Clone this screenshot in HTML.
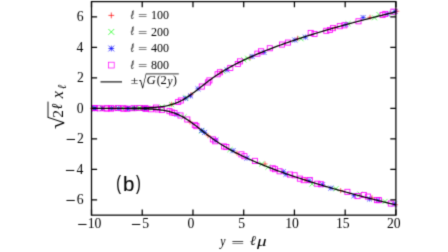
<!DOCTYPE html><html><head><meta charset="utf-8"><style>html,body{margin:0;padding:0;background:#fff;}svg{display:block}text{font-family:"Liberation Serif",serif;fill:#000}</style></head><body><svg width="448" height="252" viewBox="0 0 448 252"><defs><filter id="bl" filterUnits="userSpaceOnUse" x="0" y="0" width="448" height="252" color-interpolation-filters="sRGB"><feConvolveMatrix order="3" kernelMatrix="9 42 9 42 196 42 9 42 9" divisor="400" edgeMode="duplicate"/></filter></defs><g filter="url(#bl)"><rect width="448" height="252" fill="#fff"/><g stroke-width="0.8" fill="none"><g stroke-width="0.6"><path d="M169.15 104.28h5.10M171.70 101.73v5.10" stroke="#ff0000"/><path d="M188.45 94.57h5.10M191.00 92.02v5.10" stroke="#ff0000"/><path d="M218.85 71.47h5.10M221.40 68.92v5.10" stroke="#ff0000"/><path d="M247.45 57.69h5.10M250.00 55.14v5.10" stroke="#ff0000"/><path d="M295.05 38.34h5.10M297.60 35.79v5.10" stroke="#ff0000"/><path d="M332.45 27.76h5.10M335.00 25.21v5.10" stroke="#ff0000"/><path d="M367.45 17.31h5.10M370.00 14.76v5.10" stroke="#ff0000"/><path d="M394.25 11.21h5.10M396.80 8.66v5.10" stroke="#ff0000"/><path d="M187.45 121.94h5.10M190.00 119.39v5.10" stroke="#ff0000"/><path d="M205.45 135.63h5.10M208.00 133.08v5.10" stroke="#ff0000"/><path d="M234.45 153.15h5.10M237.00 150.60v5.10" stroke="#ff0000"/><path d="M262.45 163.95h5.10M265.00 161.40v5.10" stroke="#ff0000"/><path d="M302.45 179.58h5.10M305.00 177.03v5.10" stroke="#ff0000"/><path d="M338.15 190.60h5.10M340.70 188.05v5.10" stroke="#ff0000"/><path d="M369.45 197.80h5.10M372.00 195.25v5.10" stroke="#ff0000"/><path d="M392.95 204.81h5.10M395.50 202.26v5.10" stroke="#ff0000"/><path d="M90.02 108.39h5.10M92.57 105.84v5.10" stroke="#ff0000"/><path d="M99.43 108.29h5.10M101.98 105.74v5.10" stroke="#ff0000"/><path d="M99.63 108.42h5.10M102.18 105.87v5.10" stroke="#ff0000"/><path d="M106.55 108.21h5.10M109.10 105.66v5.10" stroke="#ff0000"/><path d="M113.37 108.24h5.10M115.92 105.69v5.10" stroke="#ff0000"/><path d="M124.49 108.21h5.10M127.04 105.66v5.10" stroke="#ff0000"/><path d="M132.06 108.28h5.10M134.61 105.73v5.10" stroke="#ff0000"/><path d="M131.58 108.51h5.10M134.13 105.96v5.10" stroke="#ff0000"/><path d="M139.68 107.99h5.10M142.23 105.44v5.10" stroke="#ff0000"/><path d="M139.53 108.47h5.10M142.08 105.92v5.10" stroke="#ff0000"/></g><g stroke-width="0.6"><path d="M159.25 104.37l5.10 5.10M159.25 109.47l5.10 -5.10" stroke="#00ff00"/><path d="M169.15 102.05l5.10 5.10M169.15 107.15l5.10 -5.10" stroke="#00ff00"/><path d="M183.45 95.10l5.10 5.10M183.45 100.20l5.10 -5.10" stroke="#00ff00"/><path d="M220.45 68.73l5.10 5.10M220.45 73.83l5.10 -5.10" stroke="#00ff00"/><path d="M241.25 57.26l5.10 5.10M241.25 62.36l5.10 -5.10" stroke="#00ff00"/><path d="M245.05 55.69l5.10 5.10M245.05 60.79l5.10 -5.10" stroke="#00ff00"/><path d="M298.45 36.20l5.10 5.10M298.45 41.30l5.10 -5.10" stroke="#00ff00"/><path d="M345.45 21.07l5.10 5.10M345.45 26.17l5.10 -5.10" stroke="#00ff00"/><path d="M371.95 15.20l5.10 5.10M371.95 20.30l5.10 -5.10" stroke="#00ff00"/><path d="M376.45 12.03l5.10 5.10M376.45 17.13l5.10 -5.10" stroke="#00ff00"/><path d="M389.45 10.67l5.10 5.10M389.45 15.77l5.10 -5.10" stroke="#00ff00"/><path d="M181.45 114.32l5.10 5.10M181.45 119.42l5.10 -5.10" stroke="#00ff00"/><path d="M199.05 128.47l5.10 5.10M199.05 133.57l5.10 -5.10" stroke="#00ff00"/><path d="M227.45 147.05l5.10 5.10M227.45 152.15l5.10 -5.10" stroke="#00ff00"/><path d="M259.15 161.47l5.10 5.10M259.15 166.57l5.10 -5.10" stroke="#00ff00"/><path d="M265.45 164.61l5.10 5.10M265.45 169.71l5.10 -5.10" stroke="#00ff00"/><path d="M309.45 181.52l5.10 5.10M309.45 186.62l5.10 -5.10" stroke="#00ff00"/><path d="M333.45 186.20l5.10 5.10M333.45 191.30l5.10 -5.10" stroke="#00ff00"/><path d="M357.45 191.59l5.10 5.10M357.45 196.69l5.10 -5.10" stroke="#00ff00"/><path d="M382.45 198.90l5.10 5.10M382.45 204.00l5.10 -5.10" stroke="#00ff00"/><path d="M92.03 105.93l5.10 5.10M92.03 111.03l5.10 -5.10" stroke="#00ff00"/><path d="M100.36 105.68l5.10 5.10M100.36 110.78l5.10 -5.10" stroke="#00ff00"/><path d="M110.50 105.62l5.10 5.10M110.50 110.72l5.10 -5.10" stroke="#00ff00"/><path d="M119.43 105.90l5.10 5.10M119.43 111.00l5.10 -5.10" stroke="#00ff00"/><path d="M119.50 105.71l5.10 5.10M119.50 110.81l5.10 -5.10" stroke="#00ff00"/><path d="M128.73 106.01l5.10 5.10M128.73 111.11l5.10 -5.10" stroke="#00ff00"/><path d="M137.08 105.46l5.10 5.10M137.08 110.56l5.10 -5.10" stroke="#00ff00"/><path d="M136.76 105.90l5.10 5.10M136.76 111.00l5.10 -5.10" stroke="#00ff00"/><path d="M144.91 105.48l5.10 5.10M144.91 110.58l5.10 -5.10" stroke="#00ff00"/></g><g stroke-width="0.6"><path d="M182.75 98.30h5.10M185.30 95.75v5.10" stroke="#0000ff"/><path d="M182.75 95.75l5.10 5.10M182.75 100.85l5.10 -5.10" stroke="#0000ff"/><path d="M187.95 95.87h5.10M190.50 93.32v5.10" stroke="#0000ff"/><path d="M187.95 93.32l5.10 5.10M187.95 98.42l5.10 -5.10" stroke="#0000ff"/><path d="M195.45 88.80h5.10M198.00 86.25v5.10" stroke="#0000ff"/><path d="M195.45 86.25l5.10 5.10M195.45 91.35l5.10 -5.10" stroke="#0000ff"/><path d="M224.45 69.93h5.10M227.00 67.38v5.10" stroke="#0000ff"/><path d="M224.45 67.38l5.10 5.10M224.45 72.48l5.10 -5.10" stroke="#0000ff"/><path d="M249.55 56.43h5.10M252.10 53.88v5.10" stroke="#0000ff"/><path d="M249.55 53.88l5.10 5.10M249.55 58.98l5.10 -5.10" stroke="#0000ff"/><path d="M261.45 52.42h5.10M264.00 49.87v5.10" stroke="#0000ff"/><path d="M261.45 49.87l5.10 5.10M261.45 54.97l5.10 -5.10" stroke="#0000ff"/><path d="M292.25 40.03h5.10M294.80 37.48v5.10" stroke="#0000ff"/><path d="M292.25 37.48l5.10 5.10M292.25 42.58l5.10 -5.10" stroke="#0000ff"/><path d="M302.85 37.16h5.10M305.40 34.61v5.10" stroke="#0000ff"/><path d="M302.85 34.61l5.10 5.10M302.85 39.71l5.10 -5.10" stroke="#0000ff"/><path d="M343.25 24.49h5.10M345.80 21.94v5.10" stroke="#0000ff"/><path d="M343.25 21.94l5.10 5.10M343.25 27.04l5.10 -5.10" stroke="#0000ff"/><path d="M360.55 17.53h5.10M363.10 14.98v5.10" stroke="#0000ff"/><path d="M360.55 14.98l5.10 5.10M360.55 20.08l5.10 -5.10" stroke="#0000ff"/><path d="M384.75 14.01h5.10M387.30 11.46v5.10" stroke="#0000ff"/><path d="M384.75 11.46l5.10 5.10M384.75 16.56l5.10 -5.10" stroke="#0000ff"/><path d="M392.45 11.47h5.10M395.00 8.92v5.10" stroke="#0000ff"/><path d="M392.45 8.92l5.10 5.10M392.45 14.02l5.10 -5.10" stroke="#0000ff"/><path d="M174.45 114.45h5.10M177.00 111.90v5.10" stroke="#0000ff"/><path d="M174.45 111.90l5.10 5.10M174.45 117.00l5.10 -5.10" stroke="#0000ff"/><path d="M199.05 130.45h5.10M201.60 127.90v5.10" stroke="#0000ff"/><path d="M199.05 127.90l5.10 5.10M199.05 133.00l5.10 -5.10" stroke="#0000ff"/><path d="M202.05 132.48h5.10M204.60 129.93v5.10" stroke="#0000ff"/><path d="M202.05 129.93l5.10 5.10M202.05 135.03l5.10 -5.10" stroke="#0000ff"/><path d="M213.25 140.07h5.10M215.80 137.52v5.10" stroke="#0000ff"/><path d="M213.25 137.52l5.10 5.10M213.25 142.62l5.10 -5.10" stroke="#0000ff"/><path d="M230.45 150.69h5.10M233.00 148.14v5.10" stroke="#0000ff"/><path d="M230.45 148.14l5.10 5.10M230.45 153.24l5.10 -5.10" stroke="#0000ff"/><path d="M244.45 158.11h5.10M247.00 155.56v5.10" stroke="#0000ff"/><path d="M244.45 155.56l5.10 5.10M244.45 160.66l5.10 -5.10" stroke="#0000ff"/><path d="M280.75 171.71h5.10M283.30 169.16v5.10" stroke="#0000ff"/><path d="M280.75 169.16l5.10 5.10M280.75 174.26l5.10 -5.10" stroke="#0000ff"/><path d="M283.45 174.27h5.10M286.00 171.72v5.10" stroke="#0000ff"/><path d="M283.45 171.72l5.10 5.10M283.45 176.82l5.10 -5.10" stroke="#0000ff"/><path d="M306.45 180.72h5.10M309.00 178.17v5.10" stroke="#0000ff"/><path d="M306.45 178.17l5.10 5.10M306.45 183.27l5.10 -5.10" stroke="#0000ff"/><path d="M320.05 184.63h5.10M322.60 182.08v5.10" stroke="#0000ff"/><path d="M320.05 182.08l5.10 5.10M320.05 187.18l5.10 -5.10" stroke="#0000ff"/><path d="M328.35 188.13h5.10M330.90 185.58v5.10" stroke="#0000ff"/><path d="M328.35 185.58l5.10 5.10M328.35 190.68l5.10 -5.10" stroke="#0000ff"/><path d="M351.45 195.68h5.10M354.00 193.13v5.10" stroke="#0000ff"/><path d="M351.45 193.13l5.10 5.10M351.45 198.23l5.10 -5.10" stroke="#0000ff"/><path d="M366.95 199.04h5.10M369.50 196.49v5.10" stroke="#0000ff"/><path d="M366.95 196.49l5.10 5.10M366.95 201.59l5.10 -5.10" stroke="#0000ff"/><path d="M375.45 200.31h5.10M378.00 197.76v5.10" stroke="#0000ff"/><path d="M375.45 197.76l5.10 5.10M375.45 202.86l5.10 -5.10" stroke="#0000ff"/><path d="M391.75 204.06h5.10M394.30 201.51v5.10" stroke="#0000ff"/><path d="M391.75 201.51l5.10 5.10M391.75 206.61l5.10 -5.10" stroke="#0000ff"/><path d="M92.65 108.15h5.10M95.20 105.60v5.10" stroke="#0000ff"/><path d="M92.65 105.60l5.10 5.10M92.65 110.70l5.10 -5.10" stroke="#0000ff"/><path d="M92.12 108.73h5.10M94.67 106.18v5.10" stroke="#0000ff"/><path d="M92.12 106.18l5.10 5.10M92.12 111.28l5.10 -5.10" stroke="#0000ff"/><path d="M99.93 108.48h5.10M102.48 105.93v5.10" stroke="#0000ff"/><path d="M99.93 105.93l5.10 5.10M99.93 111.03l5.10 -5.10" stroke="#0000ff"/><path d="M108.94 108.40h5.10M111.49 105.85v5.10" stroke="#0000ff"/><path d="M108.94 105.85l5.10 5.10M108.94 110.95l5.10 -5.10" stroke="#0000ff"/><path d="M115.86 108.54h5.10M118.41 105.99v5.10" stroke="#0000ff"/><path d="M115.86 105.99l5.10 5.10M115.86 111.09l5.10 -5.10" stroke="#0000ff"/><path d="M125.49 108.38h5.10M128.04 105.83v5.10" stroke="#0000ff"/><path d="M125.49 105.83l5.10 5.10M125.49 110.93l5.10 -5.10" stroke="#0000ff"/><path d="M125.22 108.51h5.10M127.77 105.96v5.10" stroke="#0000ff"/><path d="M125.22 105.96l5.10 5.10M125.22 111.06l5.10 -5.10" stroke="#0000ff"/><path d="M132.00 108.33h5.10M134.55 105.78v5.10" stroke="#0000ff"/><path d="M132.00 105.78l5.10 5.10M132.00 110.88l5.10 -5.10" stroke="#0000ff"/><path d="M142.35 107.97h5.10M144.90 105.42v5.10" stroke="#0000ff"/><path d="M142.35 105.42l5.10 5.10M142.35 110.52l5.10 -5.10" stroke="#0000ff"/><path d="M142.01 108.77h5.10M144.56 106.22v5.10" stroke="#0000ff"/><path d="M142.01 106.22l5.10 5.10M142.01 111.32l5.10 -5.10" stroke="#0000ff"/></g><g stroke-width="0.85"><rect x="153.35" y="105.04" width="5.10" height="5.10" fill="none" stroke="#ff00ff"/><rect x="175.65" y="99.43" width="5.10" height="5.10" fill="none" stroke="#ff00ff"/><rect x="178.25" y="97.94" width="5.10" height="5.10" fill="none" stroke="#ff00ff"/><rect x="199.25" y="83.99" width="5.10" height="5.10" fill="none" stroke="#ff00ff"/><rect x="205.35" y="79.88" width="5.10" height="5.10" fill="none" stroke="#ff00ff"/><rect x="206.85" y="77.87" width="5.10" height="5.10" fill="none" stroke="#ff00ff"/><rect x="215.05" y="71.72" width="5.10" height="5.10" fill="none" stroke="#ff00ff"/><rect x="217.35" y="69.75" width="5.10" height="5.10" fill="none" stroke="#ff00ff"/><rect x="227.75" y="65.36" width="5.10" height="5.10" fill="none" stroke="#ff00ff"/><rect x="235.25" y="61.46" width="5.10" height="5.10" fill="none" stroke="#ff00ff"/><rect x="237.45" y="58.84" width="5.10" height="5.10" fill="none" stroke="#ff00ff"/><rect x="254.85" y="51.10" width="5.10" height="5.10" fill="none" stroke="#ff00ff"/><rect x="258.55" y="48.76" width="5.10" height="5.10" fill="none" stroke="#ff00ff"/><rect x="267.25" y="45.71" width="5.10" height="5.10" fill="none" stroke="#ff00ff"/><rect x="279.45" y="42.00" width="5.10" height="5.10" fill="none" stroke="#ff00ff"/><rect x="285.45" y="40.02" width="5.10" height="5.10" fill="none" stroke="#ff00ff"/><rect x="308.15" y="30.38" width="5.10" height="5.10" fill="none" stroke="#ff00ff"/><rect x="311.95" y="31.39" width="5.10" height="5.10" fill="none" stroke="#ff00ff"/><rect x="323.75" y="28.23" width="5.10" height="5.10" fill="none" stroke="#ff00ff"/><rect x="327.45" y="27.42" width="5.10" height="5.10" fill="none" stroke="#ff00ff"/><rect x="330.45" y="25.61" width="5.10" height="5.10" fill="none" stroke="#ff00ff"/><rect x="337.25" y="23.65" width="5.10" height="5.10" fill="none" stroke="#ff00ff"/><rect x="341.85" y="22.75" width="5.10" height="5.10" fill="none" stroke="#ff00ff"/><rect x="355.95" y="18.74" width="5.10" height="5.10" fill="none" stroke="#ff00ff"/><rect x="380.05" y="12.36" width="5.10" height="5.10" fill="none" stroke="#ff00ff"/><rect x="382.75" y="11.38" width="5.10" height="5.10" fill="none" stroke="#ff00ff"/><rect x="390.85" y="9.11" width="5.10" height="5.10" fill="none" stroke="#ff00ff"/><rect x="143.45" y="106.25" width="5.10" height="5.10" fill="none" stroke="#ff00ff"/><rect x="148.45" y="106.70" width="5.10" height="5.10" fill="none" stroke="#ff00ff"/><rect x="154.95" y="106.87" width="5.10" height="5.10" fill="none" stroke="#ff00ff"/><rect x="159.45" y="107.50" width="5.10" height="5.10" fill="none" stroke="#ff00ff"/><rect x="166.95" y="108.59" width="5.10" height="5.10" fill="none" stroke="#ff00ff"/><rect x="169.45" y="109.91" width="5.10" height="5.10" fill="none" stroke="#ff00ff"/><rect x="171.95" y="110.41" width="5.10" height="5.10" fill="none" stroke="#ff00ff"/><rect x="177.95" y="112.93" width="5.10" height="5.10" fill="none" stroke="#ff00ff"/><rect x="184.75" y="116.93" width="5.10" height="5.10" fill="none" stroke="#ff00ff"/><rect x="192.25" y="122.36" width="5.10" height="5.10" fill="none" stroke="#ff00ff"/><rect x="193.85" y="123.61" width="5.10" height="5.10" fill="none" stroke="#ff00ff"/><rect x="210.35" y="136.82" width="5.10" height="5.10" fill="none" stroke="#ff00ff"/><rect x="212.65" y="138.73" width="5.10" height="5.10" fill="none" stroke="#ff00ff"/><rect x="221.45" y="143.89" width="5.10" height="5.10" fill="none" stroke="#ff00ff"/><rect x="223.75" y="144.50" width="5.10" height="5.10" fill="none" stroke="#ff00ff"/><rect x="238.85" y="151.80" width="5.10" height="5.10" fill="none" stroke="#ff00ff"/><rect x="241.85" y="153.65" width="5.10" height="5.10" fill="none" stroke="#ff00ff"/><rect x="252.35" y="158.32" width="5.10" height="5.10" fill="none" stroke="#ff00ff"/><rect x="270.25" y="165.74" width="5.10" height="5.10" fill="none" stroke="#ff00ff"/><rect x="272.45" y="166.63" width="5.10" height="5.10" fill="none" stroke="#ff00ff"/><rect x="277.05" y="168.72" width="5.10" height="5.10" fill="none" stroke="#ff00ff"/><rect x="287.55" y="171.98" width="5.10" height="5.10" fill="none" stroke="#ff00ff"/><rect x="292.05" y="172.74" width="5.10" height="5.10" fill="none" stroke="#ff00ff"/><rect x="297.35" y="176.10" width="5.10" height="5.10" fill="none" stroke="#ff00ff"/><rect x="301.15" y="177.62" width="5.10" height="5.10" fill="none" stroke="#ff00ff"/><rect x="307.25" y="177.53" width="5.10" height="5.10" fill="none" stroke="#ff00ff"/><rect x="314.75" y="181.15" width="5.10" height="5.10" fill="none" stroke="#ff00ff"/><rect x="318.45" y="181.71" width="5.10" height="5.10" fill="none" stroke="#ff00ff"/><rect x="344.85" y="189.32" width="5.10" height="5.10" fill="none" stroke="#ff00ff"/><rect x="354.95" y="193.56" width="5.10" height="5.10" fill="none" stroke="#ff00ff"/><rect x="361.25" y="192.48" width="5.10" height="5.10" fill="none" stroke="#ff00ff"/><rect x="365.35" y="194.04" width="5.10" height="5.10" fill="none" stroke="#ff00ff"/><rect x="374.45" y="197.56" width="5.10" height="5.10" fill="none" stroke="#ff00ff"/><rect x="376.45" y="197.62" width="5.10" height="5.10" fill="none" stroke="#ff00ff"/><rect x="388.25" y="200.98" width="5.10" height="5.10" fill="none" stroke="#ff00ff"/><rect x="91.75" y="105.48" width="5.10" height="5.10" fill="none" stroke="#ff00ff"/><rect x="91.73" y="105.57" width="5.10" height="5.10" fill="none" stroke="#ff00ff"/><rect x="97.16" y="105.76" width="5.10" height="5.10" fill="none" stroke="#ff00ff"/><rect x="104.03" y="105.91" width="5.10" height="5.10" fill="none" stroke="#ff00ff"/><rect x="103.70" y="105.82" width="5.10" height="5.10" fill="none" stroke="#ff00ff"/><rect x="108.77" y="105.78" width="5.10" height="5.10" fill="none" stroke="#ff00ff"/><rect x="108.50" y="105.89" width="5.10" height="5.10" fill="none" stroke="#ff00ff"/><rect x="115.33" y="105.50" width="5.10" height="5.10" fill="none" stroke="#ff00ff"/><rect x="121.19" y="105.99" width="5.10" height="5.10" fill="none" stroke="#ff00ff"/><rect x="120.30" y="105.84" width="5.10" height="5.10" fill="none" stroke="#ff00ff"/><rect x="124.89" y="106.18" width="5.10" height="5.10" fill="none" stroke="#ff00ff"/><rect x="131.08" y="105.65" width="5.10" height="5.10" fill="none" stroke="#ff00ff"/><rect x="136.83" y="105.47" width="5.10" height="5.10" fill="none" stroke="#ff00ff"/><rect x="142.82" y="105.67" width="5.10" height="5.10" fill="none" stroke="#ff00ff"/></g></g><path d="M91.50 108.37L92.77 108.37L94.04 108.37L95.31 108.37L96.57 108.37L97.84 108.37L99.11 108.37L100.38 108.37L101.65 108.37L102.91 108.37L104.18 108.36L105.45 108.36L106.72 108.36L107.99 108.36L109.26 108.36L110.53 108.36L111.79 108.35L113.06 108.35L114.33 108.35L115.60 108.35L116.87 108.34L118.13 108.34L119.40 108.33L120.67 108.33L121.94 108.32L123.21 108.32L124.48 108.31L125.75 108.30L127.01 108.29L128.28 108.28L129.55 108.27L130.82 108.26L132.09 108.24L133.35 108.23L134.62 108.21L135.89 108.19L137.16 108.17L138.43 108.14L139.70 108.12L140.97 108.08L142.23 108.05L143.50 108.01L144.77 107.97L146.04 107.92L147.31 107.87L148.57 107.81L149.84 107.74L151.11 107.67L152.38 107.58L153.65 107.49L154.92 107.39L156.19 107.28L157.45 107.16L158.72 107.02L159.99 106.87L161.26 106.70L162.53 106.51L163.80 106.31L165.06 106.08L166.33 105.84L167.60 105.57L168.87 105.27L170.14 104.95L171.40 104.59L172.67 104.21L173.94 103.79L175.21 103.34L176.48 102.85L177.75 102.33L179.01 101.76L180.28 101.16L181.55 100.52L182.82 99.84L184.09 99.12L185.36 98.36L186.62 97.57L187.89 96.74L189.16 95.88L190.43 94.98L191.70 94.06L192.97 93.12L194.23 92.16L195.50 91.18L196.77 90.19L198.04 89.19L199.31 88.19L200.58 87.18L201.84 86.18L203.11 85.18L204.38 84.18L205.65 83.20L206.92 82.23L208.19 81.27L209.45 80.33L210.72 79.40L211.99 78.48L213.26 77.58L214.53 76.70L215.80 75.84L217.06 74.99L218.33 74.15L219.60 73.33L220.87 72.53L222.14 71.74L223.41 70.97L224.67 70.20L225.94 69.46L227.21 68.72L228.48 68.00L229.75 67.29L231.02 66.59L232.28 65.90L233.55 65.22L234.82 64.56L236.09 63.90L237.36 63.25L238.63 62.61L239.89 61.98L241.16 61.36L242.43 60.74L243.70 60.14L244.97 59.54L246.24 58.95L247.50 58.36L248.77 57.78L250.04 57.21L251.31 56.65L252.58 56.09L253.85 55.53L255.11 54.99L256.38 54.45L257.65 53.91L258.92 53.38L260.19 52.85L261.46 52.33L262.73 51.81L263.99 51.30L265.26 50.79L266.53 50.29L267.80 49.79L269.07 49.30L270.33 48.81L271.60 48.32L272.87 47.84L274.14 47.36L275.41 46.89L276.68 46.41L277.94 45.95L279.21 45.48L280.48 45.02L281.75 44.56L283.02 44.11L284.29 43.66L285.55 43.21L286.82 42.77L288.09 42.33L289.36 41.89L290.63 41.45L291.90 41.02L293.16 40.59L294.43 40.16L295.70 39.73L296.97 39.31L298.24 38.89L299.51 38.47L300.77 38.06L302.04 37.65L303.31 37.24L304.58 36.83L305.85 36.42L307.12 36.02L308.38 35.62L309.65 35.22L310.92 34.82L312.19 34.43L313.46 34.04L314.73 33.65L316.00 33.26L317.26 32.87L318.53 32.49L319.80 32.11L321.07 31.73L322.34 31.35L323.61 30.97L324.87 30.60L326.14 30.22L327.41 29.85L328.68 29.48L329.95 29.12L331.22 28.75L332.48 28.38L333.75 28.02L335.02 27.66L336.29 27.30L337.56 26.94L338.82 26.59L340.09 26.23L341.36 25.88L342.63 25.53L343.90 25.18L345.17 24.83L346.43 24.48L347.70 24.13L348.97 23.79L350.24 23.45L351.51 23.10L352.78 22.76L354.04 22.43L355.31 22.09L356.58 21.75L357.85 21.42L359.12 21.08L360.39 20.75L361.65 20.42L362.92 20.09L364.19 19.76L365.46 19.43L366.73 19.11L368.00 18.78L369.26 18.46L370.53 18.13L371.80 17.81L373.07 17.49L374.34 17.17L375.61 16.85L376.88 16.54L378.14 16.22L379.41 15.91L380.68 15.59L381.95 15.28L383.22 14.97L384.48 14.66L385.75 14.35L387.02 14.04L388.29 13.73L389.56 13.42L390.83 13.12L392.09 12.81L393.36 12.51L394.63 12.20L395.90 11.90M91.50 108.38L92.77 108.38L94.04 108.38L95.31 108.38L96.57 108.38L97.84 108.38L99.11 108.38L100.38 108.38L101.65 108.38L102.91 108.38L104.18 108.39L105.45 108.39L106.72 108.39L107.99 108.39L109.26 108.39L110.53 108.39L111.79 108.40L113.06 108.40L114.33 108.40L115.60 108.40L116.87 108.41L118.13 108.41L119.40 108.42L120.67 108.42L121.94 108.43L123.21 108.43L124.48 108.44L125.75 108.45L127.01 108.46L128.28 108.47L129.55 108.48L130.82 108.49L132.09 108.51L133.35 108.52L134.62 108.54L135.89 108.56L137.16 108.58L138.43 108.61L139.70 108.63L140.97 108.67L142.23 108.70L143.50 108.74L144.77 108.78L146.04 108.83L147.31 108.88L148.57 108.94L149.84 109.01L151.11 109.08L152.38 109.17L153.65 109.26L154.92 109.36L156.19 109.47L157.45 109.59L158.72 109.73L159.99 109.88L161.26 110.05L162.53 110.24L163.80 110.44L165.06 110.67L166.33 110.91L167.60 111.18L168.87 111.48L170.14 111.80L171.40 112.16L172.67 112.54L173.94 112.96L175.21 113.41L176.48 113.90L177.75 114.42L179.01 114.99L180.28 115.59L181.55 116.23L182.82 116.91L184.09 117.63L185.36 118.39L186.62 119.18L187.89 120.01L189.16 120.87L190.43 121.77L191.70 122.69L192.97 123.63L194.23 124.59L195.50 125.57L196.77 126.56L198.04 127.56L199.31 128.56L200.58 129.57L201.84 130.57L203.11 131.57L204.38 132.57L205.65 133.55L206.92 134.52L208.19 135.48L209.45 136.42L210.72 137.35L211.99 138.27L213.26 139.17L214.53 140.05L215.80 140.91L217.06 141.76L218.33 142.60L219.60 143.42L220.87 144.22L222.14 145.01L223.41 145.78L224.67 146.55L225.94 147.29L227.21 148.03L228.48 148.75L229.75 149.46L231.02 150.16L232.28 150.85L233.55 151.53L234.82 152.19L236.09 152.85L237.36 153.50L238.63 154.14L239.89 154.77L241.16 155.39L242.43 156.01L243.70 156.61L244.97 157.21L246.24 157.80L247.50 158.39L248.77 158.97L250.04 159.54L251.31 160.10L252.58 160.66L253.85 161.22L255.11 161.76L256.38 162.30L257.65 162.84L258.92 163.37L260.19 163.90L261.46 164.42L262.73 164.94L263.99 165.45L265.26 165.96L266.53 166.46L267.80 166.96L269.07 167.45L270.33 167.94L271.60 168.43L272.87 168.91L274.14 169.39L275.41 169.86L276.68 170.34L277.94 170.80L279.21 171.27L280.48 171.73L281.75 172.19L283.02 172.64L284.29 173.09L285.55 173.54L286.82 173.98L288.09 174.42L289.36 174.86L290.63 175.30L291.90 175.73L293.16 176.16L294.43 176.59L295.70 177.02L296.97 177.44L298.24 177.86L299.51 178.28L300.77 178.69L302.04 179.10L303.31 179.51L304.58 179.92L305.85 180.33L307.12 180.73L308.38 181.13L309.65 181.53L310.92 181.93L312.19 182.32L313.46 182.71L314.73 183.10L316.00 183.49L317.26 183.88L318.53 184.26L319.80 184.64L321.07 185.02L322.34 185.40L323.61 185.78L324.87 186.15L326.14 186.53L327.41 186.90L328.68 187.27L329.95 187.63L331.22 188.00L332.48 188.37L333.75 188.73L335.02 189.09L336.29 189.45L337.56 189.81L338.82 190.16L340.09 190.52L341.36 190.87L342.63 191.22L343.90 191.57L345.17 191.92L346.43 192.27L347.70 192.62L348.97 192.96L350.24 193.30L351.51 193.65L352.78 193.99L354.04 194.32L355.31 194.66L356.58 195.00L357.85 195.33L359.12 195.67L360.39 196.00L361.65 196.33L362.92 196.66L364.19 196.99L365.46 197.32L366.73 197.64L368.00 197.97L369.26 198.29L370.53 198.62L371.80 198.94L373.07 199.26L374.34 199.58L375.61 199.90L376.88 200.21L378.14 200.53L379.41 200.84L380.68 201.16L381.95 201.47L383.22 201.78L384.48 202.09L385.75 202.40L387.02 202.71L388.29 203.02L389.56 203.33L390.83 203.63L392.09 203.94L393.36 204.24L394.63 204.55L395.90 204.85" fill="none" stroke="#000" stroke-width="1.25"/><path d="M91.50 215.15v-5.60M91.50 1.60v5.60M142.23 215.15v-5.60M142.23 1.60v5.60M192.97 215.15v-5.60M192.97 1.60v5.60M243.70 215.15v-5.60M243.70 1.60v5.60M294.43 215.15v-5.60M294.43 1.60v5.60M345.17 215.15v-5.60M345.17 1.60v5.60M395.90 215.15v-5.60M395.90 1.60v5.60M91.50 199.90h5.60M395.90 199.90h-5.60M91.50 169.39h5.60M395.90 169.39h-5.60M91.50 138.88h5.60M395.90 138.88h-5.60M91.50 108.38h5.60M395.90 108.38h-5.60M91.50 77.87h5.60M395.90 77.87h-5.60M91.50 47.36h5.60M395.90 47.36h-5.60M91.50 16.85h5.60M395.90 16.85h-5.60" stroke="#000" stroke-width="1.25" fill="none"/><rect x="91.50" y="1.60" width="304.40" height="213.55" fill="none" stroke="#000" stroke-width="1.25"/><text transform="translate(65.45 207.16) scale(0.899 1)" font-size="20.08">&#8722;</text><text x="76.66" y="204.10" font-size="13.70">6</text><text transform="translate(64.93 176.66) scale(0.899 1)" font-size="20.08">&#8722;</text><text x="76.46" y="173.59" font-size="13.70">4</text><text transform="translate(65.81 146.15) scale(0.899 1)" font-size="20.08">&#8722;</text><text x="77.01" y="143.08" font-size="13.70">2</text><text x="76.77" y="112.58" font-size="13.70">0</text><text x="77.01" y="82.07" font-size="13.70">2</text><text x="76.46" y="51.56" font-size="13.70">4</text><text x="76.66" y="21.05" font-size="13.70">6</text><text transform="translate(77.16 231.27) scale(0.899 1)" font-size="20.08">&#8722;</text><text x="87.76" y="227.80" font-size="13.70">10</text><text transform="translate(131.12 231.27) scale(0.899 1)" font-size="20.08">&#8722;</text><text x="142.13" y="227.80" font-size="13.70">5</text><text x="187.54" y="227.80" font-size="13.70">0</text><text x="238.14" y="227.80" font-size="13.70">5</text><text x="285.24" y="227.80" font-size="13.70">10</text><text x="335.98" y="227.80" font-size="13.70">15</text><text x="387.01" y="227.80" font-size="13.70">20</text><g stroke-width="0.7" fill="none"><path d="M108.40 15.40h5.80M111.30 12.50v5.80" stroke="#ff0000"/></g><text transform="translate(130.41 18.97) scale(0.714 1)" font-size="12.88" font-style="italic">&#8467;</text><text transform="translate(137.98 19.24) scale(1.576 1)" font-size="10.50">=</text><text x="151.05" y="19.20" font-size="12.00">100</text><g stroke-width="0.7" fill="none"><path d="M108.40 29.00l5.80 5.80M108.40 34.80l5.80 -5.80" stroke="#00ff00"/></g><text transform="translate(130.41 35.47) scale(0.714 1)" font-size="12.88" font-style="italic">&#8467;</text><text transform="translate(137.98 35.74) scale(1.576 1)" font-size="10.50">=</text><text x="151.05" y="35.70" font-size="12.00">200</text><g stroke-width="0.7" fill="none"><path d="M108.40 48.50h5.80M111.30 45.60v5.80" stroke="#0000ff"/><path d="M108.40 45.60l5.80 5.80M108.40 51.40l5.80 -5.80" stroke="#0000ff"/></g><text transform="translate(130.41 52.07) scale(0.714 1)" font-size="12.88" font-style="italic">&#8467;</text><text transform="translate(137.98 52.34) scale(1.576 1)" font-size="10.50">=</text><text x="151.05" y="52.30" font-size="12.00">400</text><g stroke-width="0.7" fill="none"><rect x="108.40" y="62.20" width="5.80" height="5.80" fill="none" stroke="#ff00ff"/></g><text transform="translate(130.41 68.67) scale(0.714 1)" font-size="12.88" font-style="italic">&#8467;</text><text transform="translate(137.98 68.94) scale(1.576 1)" font-size="10.50">=</text><text x="151.05" y="68.90" font-size="12.00">800</text><path d="M100.5 81.90H122" stroke="#000" stroke-width="1.1"/><text transform="translate(130.63 84.30) scale(1.317 1)" font-size="10.44">&#177;</text><text transform="translate(138.85 88.17) scale(0.768 1)" font-size="18.42">&#8730;</text><path d="M146.2 73.9H178.8" stroke="#000" stroke-width="0.8"/><text transform="translate(146.59 84.20) scale(1.092 1)" font-size="11.78" font-style="italic">G</text><text transform="translate(156.79 84.37) scale(0.946 1)" font-size="12.35">(</text><text transform="translate(160.45 84.30) scale(1.072 1)" font-size="11.63">2</text><text transform="translate(167.45 84.51) scale(0.983 1)" font-size="11.56" font-style="italic">y</text><text transform="translate(173.12 84.37) scale(0.946 1)" font-size="12.35">)</text><text transform="translate(220.28 245.90) scale(0.817 1)" font-size="14.37" font-style="italic">y</text><text transform="translate(231.24 247.37) scale(1.785 1)" font-size="13.00">=</text><text transform="translate(250.11 245.37) scale(1.044 1)" font-size="13.48" font-style="italic">&#8467;</text><text transform="translate(257.02 246.11) scale(1.417 1)" font-size="13.52" font-style="italic">&#956;</text><g transform="translate(62.5 131) rotate(-90)"><text transform="translate(2.05 1.66) scale(1.060 1)" font-size="20.93">&#8730;</text><path d="M13.8 -14.5H29.4" stroke="#000" stroke-width="0.9"/><text transform="translate(13.32 0.00) scale(1.014 1)" font-size="15.25">2</text><text transform="translate(21.51 -0.05) scale(0.930 1)" font-size="15.40" font-style="italic">&#8467;</text><text transform="translate(32.80 0.00) scale(1.023 1)" font-size="15.69" font-style="italic">x</text><text transform="translate(41.99 3.28) scale(0.832 1)" font-size="12.29" font-style="italic">&#8467;</text></g><text transform="translate(116.21 190.49) scale(0.722 1)" font-size="19.86" style="font-family:'Liberation Sans',sans-serif" stroke="#000" stroke-width="0.12">(</text><text transform="translate(122.88 191.39) scale(0.969 1)" font-size="21.11" style="font-family:'Liberation Sans',sans-serif" stroke="#000" stroke-width="0.12">b</text><text transform="translate(135.92 190.49) scale(0.722 1)" font-size="19.86" style="font-family:'Liberation Sans',sans-serif" stroke="#000" stroke-width="0.12">)</text></g></svg></body></html>
